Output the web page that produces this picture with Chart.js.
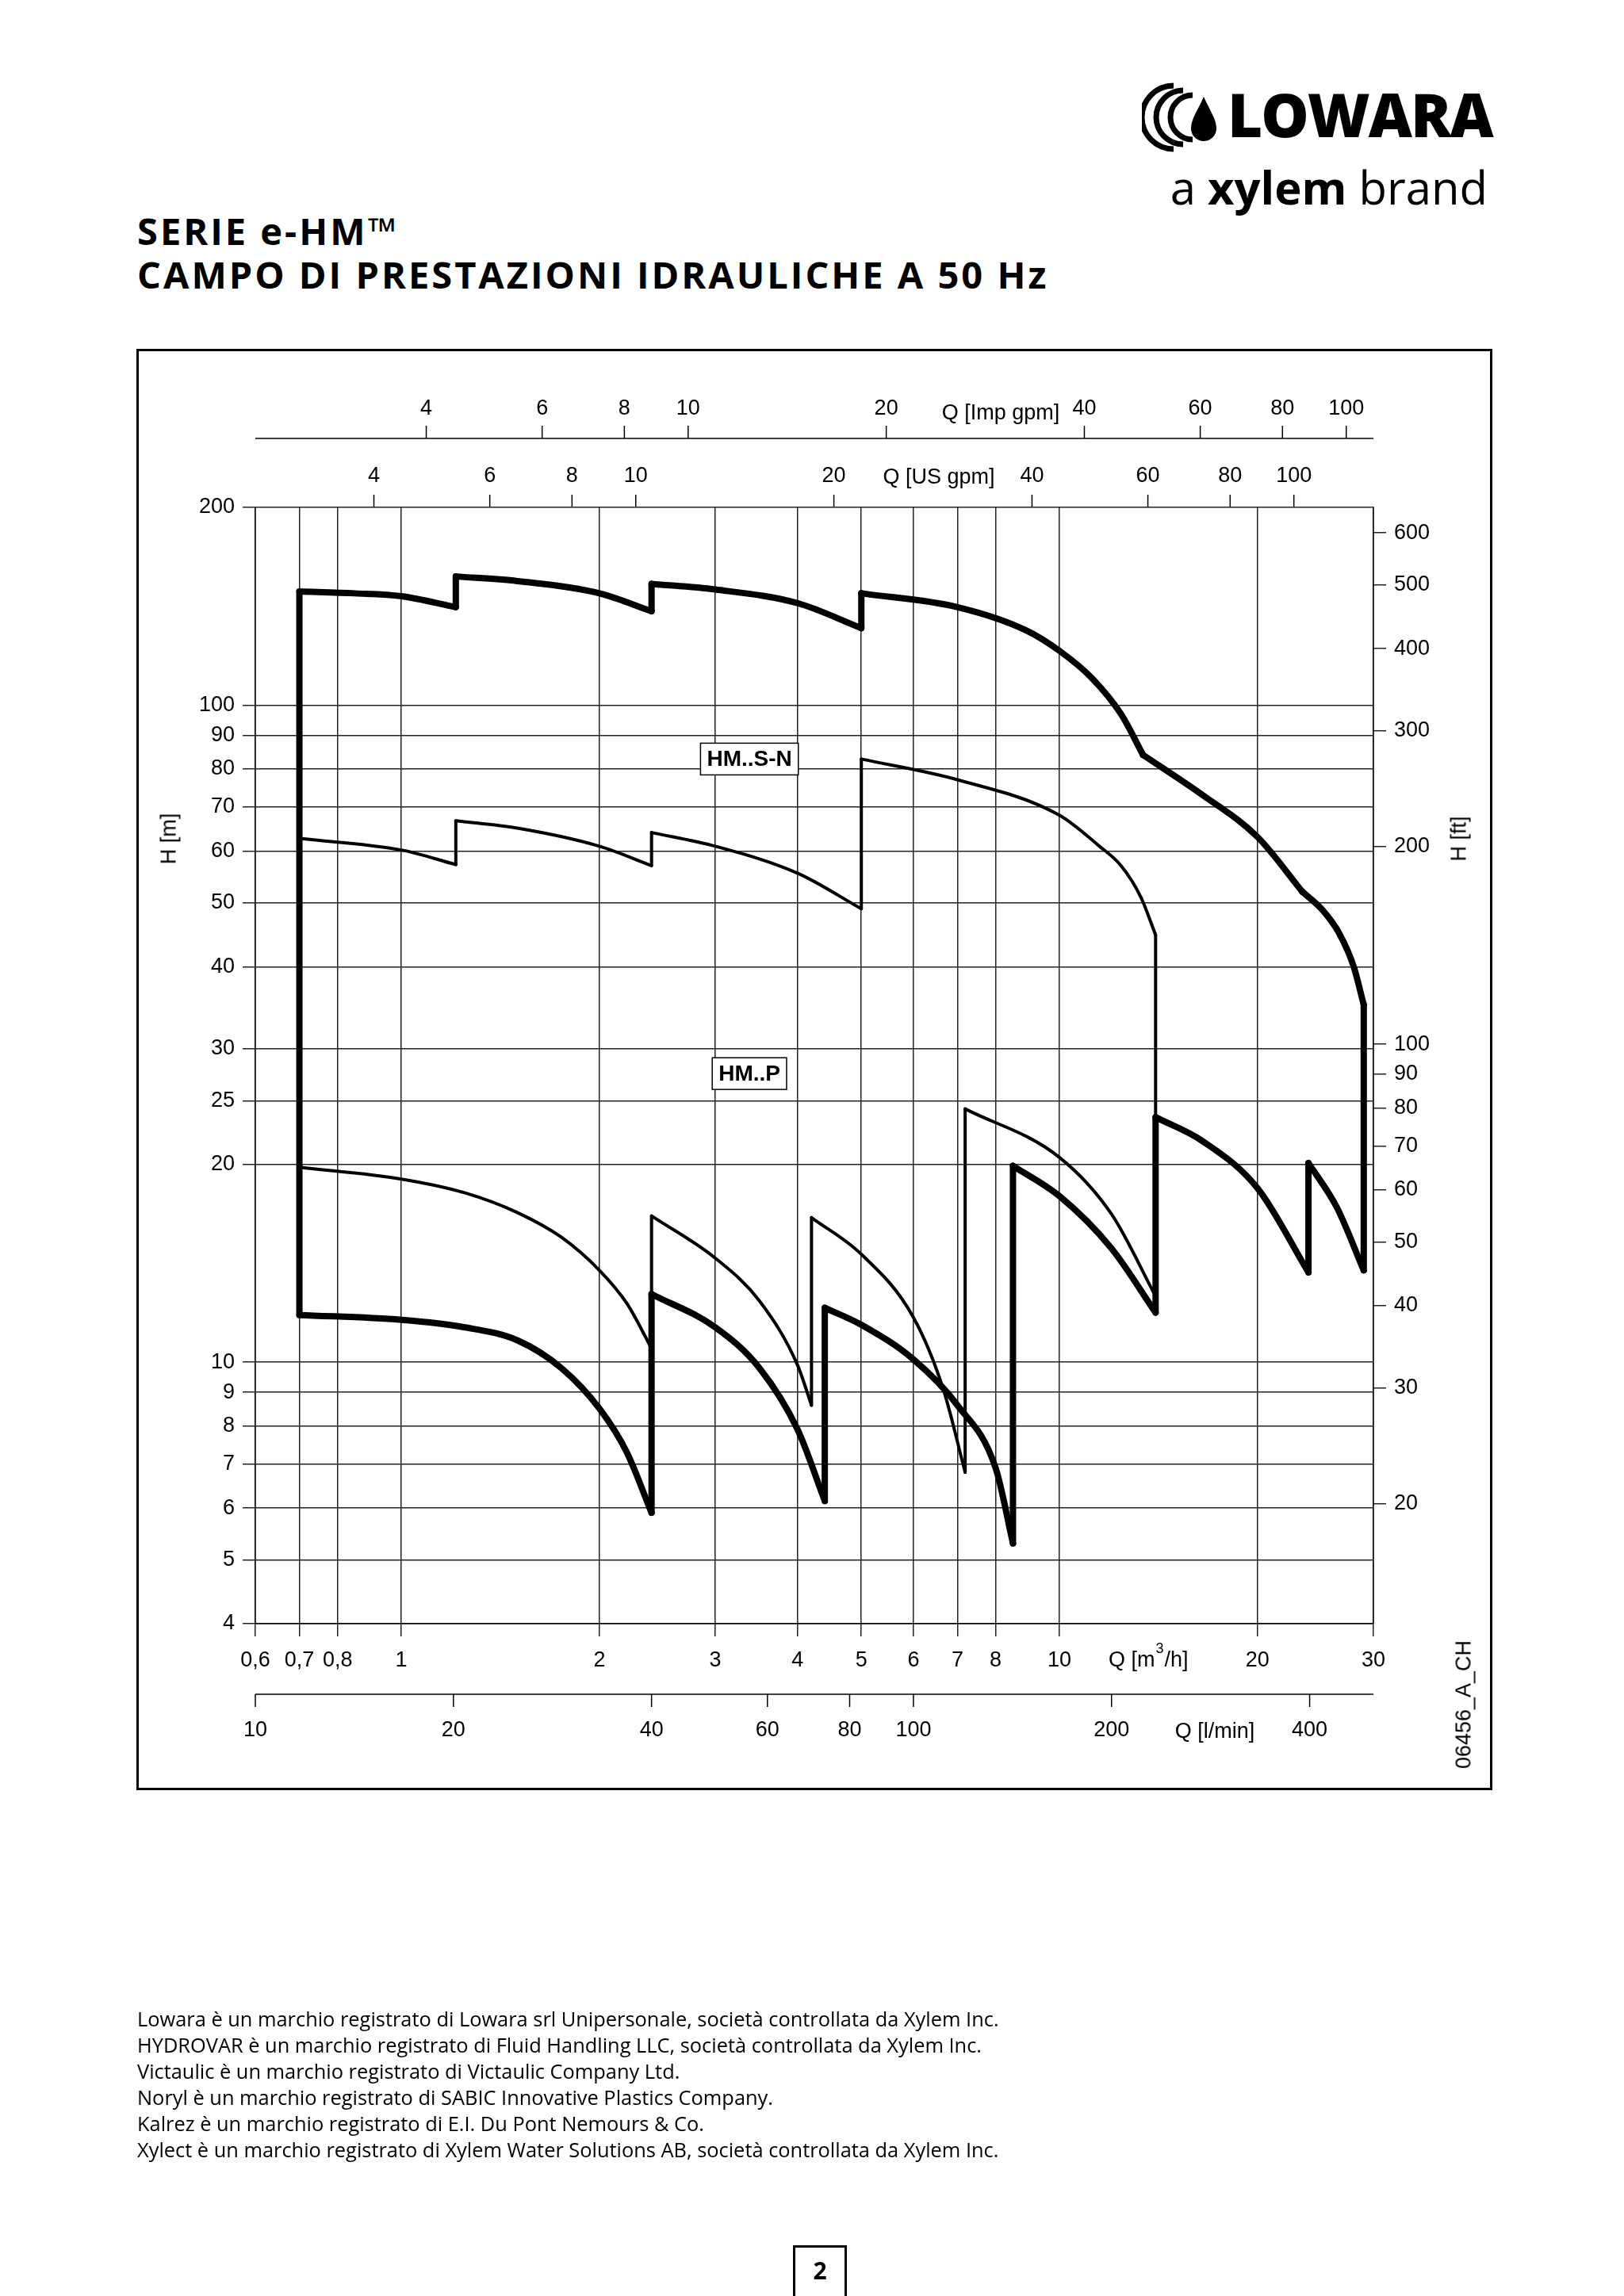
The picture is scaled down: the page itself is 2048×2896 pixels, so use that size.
<!DOCTYPE html>
<html>
<head>
<meta charset="utf-8">
<script src="https://cdn.jsdelivr.net/npm/chart.js@4.4.0/dist/chart.umd.min.js"></script>
<style>
  body { margin:0; width:2048px; height:2896px; background:#fff; position:relative; overflow:hidden; font-family:"Liberation Sans", Arial, sans-serif; }
  #myChart { position:absolute; left:0; top:0; }
  .frame { position:absolute; left:172px; top:440px; width:1704px; height:1812px; border:3px solid #000; }
  .title { position:absolute; left:173px; font-family:"Open Sans", sans-serif; font-weight:700; font-size:47px; letter-spacing:3px; }
  .foot { position:absolute; left:173px; top:2530px; font-family:"Open Sans", sans-serif; font-size:25.4px; line-height:33px; }
  .rot { position:absolute; transform:translate(-50%,-50%) rotate(-90deg); font-size:27px; white-space:nowrap; }
  .page { position:absolute; left:1000px; top:2832px; width:62px; height:90px; border:3px solid #000; font-family:"Open Sans"; font-weight:700; font-size:30px; text-align:center; line-height:58px; }
</style>
</head>
<body>
<svg style="position:absolute;left:1440px;top:100px" width="100" height="96" viewBox="0 0 100 96">
  <g fill="none" stroke="#000" stroke-width="7">
    <path d="M40 8 A40 40 0 0 0 40 88"/>
    <path d="M52 14 A34 34 0 0 0 52 82"/>
    <path d="M64 20 A28 28 0 0 0 64 76"/>
  </g>
  <path d="M78 22 C70 40 62 50 62 62 A16 16 0 0 0 94 62 C94 50 86 40 78 22 Z" fill="#000"/>
</svg>
<div style="position:absolute;left:1548px;top:92px;font-family:'Open Sans';font-weight:800;font-size:76px;letter-spacing:-2px">LOWARA</div>
<div style="position:absolute;right:172px;top:196px;font-family:'Open Sans';font-size:58px">a <b>xylem</b> brand</div>
<div class="title" style="top:259px">SERIE e-HM™</div>
<div class="title" style="top:314px">CAMPO DI PRESTAZIONI IDRAULICHE A 50 Hz</div>
<div class="frame"></div>
<canvas id="myChart" width="2048" height="2896"></canvas>
<div class="rot" style="left:213px;top:1058px">H [m]</div>
<div class="rot" style="left:1840px;top:1058px">H [ft]</div>
<div class="rot" style="left:1846px;top:2150px">06456_A_CH</div>
<div class="foot">
Lowara è un marchio registrato di Lowara srl Unipersonale, società controllata da Xylem Inc.<br>
HYDROVAR è un marchio registrato di Fluid Handling LLC, società controllata da Xylem Inc.<br>
Victaulic è un marchio registrato di Victaulic Company Ltd.<br>
Noryl è un marchio registrato di SABIC Innovative Plastics Company.<br>
Kalrez è un marchio registrato di E.I. Du Pont Nemours &amp; Co.<br>
Xylect è un marchio registrato di Xylem Water Solutions AB, società controllata da Xylem Inc.
</div>
<div class="page">2</div>
<script>
// tick values
var xTicks = [0.6, 0.7, 0.8, 1, 2, 3, 4, 5, 6, 7, 8, 10, 20, 30];
var yTicks = [4, 5, 6, 7, 8, 9, 10, 20, 25, 30, 40, 50, 60, 70, 80, 90, 100, 200];
var ftTicks = [20, 30, 40, 50, 60, 70, 80, 90, 100, 200, 300, 400, 500, 600];
var impTicks = [4, 6, 8, 10, 20, 40, 60, 80, 100];
var usTicks = [4, 6, 8, 10, 20, 40, 60, 80, 100];
var lminTicks = [10, 20, 40, 60, 80, 100, 200, 400];

// HM..S-N upper envelope (thick), [Q m3/h, H m]
var snThick = [
  [[0.7, 149], [0.85, 148], [1, 146.5], [1.21, 141]],
  [[1.21, 157], [1.5, 154.5], [2, 148], [2.4, 139]],
  [[2.4, 153], [3, 150], [4, 143], [5, 131]],
  [[5, 148], [7, 141], [8.9, 130], [10, 121], [11.2, 110], [12.4, 97], [13.4, 84]],
  [[13.4, 84], [16.5, 73], [20, 63], [23.4, 52]],
  [[23.4, 52], [25, 49], [26.6, 45], [28, 40], [29, 35]]
];
// HM..S-N lower (thin)
var snThin = [
  [[0.7, 62.7], [1, 60.2], [1.21, 57.2]],
  [[1.21, 66.7], [1.5, 65], [2, 61], [2.4, 57]],
  [[2.4, 64], [3, 61], [4, 55.5], [5, 49]],
  [[5, 82.8], [7, 77], [10, 68], [11.5, 61], [12.4, 57], [13.3, 51], [14, 44.7]]
];
// HM..P upper (thin)
var pThin = [
  [[0.7, 19.8], [1, 19], [1.25, 18.1], [1.5, 16.9], [1.75, 15.5], [2, 13.8], [2.2, 12.3], [2.4, 10.5]],
  [[2.4, 16.7], [3, 14.4], [3.5, 12.4], [4, 9.9], [4.2, 8.6]],
  [[4.2, 16.6], [5, 14.6], [6, 11.7], [6.66, 9.1], [7.19, 6.8]],
  [[7.19, 24.3], [10, 20.5], [12, 16.8], [14, 12.6]]
];
// HM..P lower envelope (thick)
var pThick = [
  [[0.7, 11.8], [1, 11.6], [1.25, 11.3], [1.5, 10.8], [1.75, 9.8], [2, 8.5], [2.2, 7.3], [2.4, 5.9]],
  [[2.4, 12.7], [3, 11.3], [3.5, 9.8], [4, 7.9], [4.4, 6.15]],
  [[4.4, 12.1], [5, 11.4], [6, 10.1], [7, 8.6], [8, 6.9], [8.5, 5.3]],
  [[8.5, 19.9], [10, 17.9], [12, 14.9], [14, 11.9]],
  [[14, 23.6], [16.5, 21.7], [20, 18.4], [23.9, 13.7]],
  [[23.9, 20.1], [26.4, 17.2], [29, 13.8]]
];
// closing verticals
var thickLeft = [[0.7, 11.8], [0.7, 149]];
var thickRight = [[29, 13.8], [29, 35]];
var thinRight = [[14, 44.7], [14, 12.6]];

var datasets = [];
function addLine(pts, w, smooth) {
  datasets.push({
    data: pts.map(function (p) { return { x: p[0], y: p[1] }; }),
    borderColor: '#000', borderWidth: w, pointRadius: 0,
    tension: smooth ? 0.4 : 0, cubicInterpolationMode: smooth ? 'monotone' : 'default',
    borderCapStyle: 'round', borderJoinStyle: 'round', fill: false
  });
}
function addSeries(pieces, w) {
  pieces.forEach(function (pc, i) {
    addLine(pc, w, true);
    if (i > 0) addLine([pieces[i - 1][pieces[i - 1].length - 1], pc[0]], w, false);
  });
}
addSeries(snThick, 8);
addSeries(pThick, 8);
addSeries(snThin, 4);
addSeries(pThin, 4);
addLine(thickLeft, 8, false);
addLine(thickRight, 8, false);
addLine(thinRight, 4, false);

var tickFont = { family: 'Liberation Sans', size: 27 };
function fmt(v) { return String(v).replace('.', ','); }

var extras = {
  id: 'extras',
  afterDraw: function (chart) {
    var c = chart.ctx, x = chart.scales.x, y = chart.scales.y, a = chart.chartArea;
    c.save();
    c.strokeStyle = '#000'; c.fillStyle = '#000'; c.lineWidth = 1.5;
    c.font = '27px "Liberation Sans"'; c.textAlign = 'center'; c.textBaseline = 'middle';
    // Imp gpm axis
    var yi = 553;
    c.beginPath(); c.moveTo(a.left, yi); c.lineTo(a.right, yi); c.stroke();
    impTicks.forEach(function (v) {
      var px = x.getPixelForValue(v / 3.666);
      c.beginPath(); c.moveTo(px, yi); c.lineTo(px, yi - 16); c.stroke();
      c.fillText(String(v), px, 516);
    });
    c.fillText('Q [Imp gpm]', 1262, 522);
    // US gpm axis
    usTicks.forEach(function (v) {
      var px = x.getPixelForValue(v / 4.403);
      c.beginPath(); c.moveTo(px, a.top); c.lineTo(px, a.top - 16); c.stroke();
      c.fillText(String(v), px, 601);
    });
    c.fillText('Q [US gpm]', 1184, 603);
    // l/min axis
    var yl = 2137;
    c.beginPath(); c.moveTo(a.left, yl); c.lineTo(a.right, yl); c.stroke();
    lminTicks.forEach(function (v) {
      var px = x.getPixelForValue(v / 16.667);
      c.beginPath(); c.moveTo(px, yl); c.lineTo(px, yl + 16); c.stroke();
      c.fillText(String(v), px, 2183);
    });
    c.fillText('Q [l/min]', 1532, 2185);
    // m3/h label with superscript
    c.textAlign = 'left';
    var x0 = 1398, p1 = 'Q [m', p3 = '/h]';
    c.fillText(p1, x0, 2095);
    var w1 = c.measureText(p1).width;
    c.font = '18px "Liberation Sans"';
    c.fillText('3', x0 + w1 + 1, 2080);
    var w3 = c.measureText('3').width;
    c.font = '27px "Liberation Sans"';
    c.fillText(p3, x0 + w1 + w3 + 2, 2095);
    c.textAlign = 'center';
    // series labels
    c.font = 'bold 28px "Liberation Sans"';
    [['HM..S-N', 3.38, 82.8], ['HM..P', 3.38, 27.5]].forEach(function (l) {
      var px = x.getPixelForValue(l[1]), py = y.getPixelForValue(l[2]);
      var w = c.measureText(l[0]).width + 16;
      c.fillStyle = '#fff'; c.fillRect(px - w / 2, py - 20, w, 40);
      c.strokeRect(px - w / 2, py - 20, w, 40);
      c.fillStyle = '#000'; c.fillText(l[0], px, py + 1);
    });
    c.restore();
  }
};

var ctx = document.getElementById('myChart').getContext('2d');
var myChart = new Chart(ctx, {
  type: 'line',
  data: { datasets: datasets },
  plugins: [extras],
  options: {
    responsive: false,
    animation: false,
    devicePixelRatio: 1,
    layout: { padding: { left: 222, right: 196, top: 640, bottom: 788 } },
    plugins: { legend: { display: false }, tooltip: { enabled: false } },
    scales: {
      x: {
        type: 'logarithmic', min: 0.6, max: 30, position: 'bottom',
        afterBuildTicks: function (s) { s.ticks = xTicks.map(function (v) { return { value: v }; }); },
        afterFit: function (s) { s.height = 60; },
        ticks: { font: tickFont, color: '#000', padding: 14, autoSkip: false, maxRotation: 0,
          callback: function (v) { return fmt(v); } },
        grid: { color: '#222', lineWidth: 1.5, tickLength: 16 },
        border: { color: '#000', width: 1.5 }
      },
      y: {
        type: 'logarithmic', min: 4, max: 200, position: 'left',
        afterBuildTicks: function (s) { s.ticks = yTicks.map(function (v) { return { value: v }; }); },
        afterFit: function (s) { s.width = 100; },
        ticks: { font: tickFont, color: '#000', padding: 10, autoSkip: false,
          callback: function (v) { return String(v); } },
        grid: { color: '#222', lineWidth: 1.5, tickLength: 16 },
        border: { color: '#000', width: 1.5 }
      },
      y2: {
        type: 'logarithmic', min: 4 * 3.2808, max: 200 * 3.2808, position: 'right',
        afterBuildTicks: function (s) { s.ticks = ftTicks.map(function (v) { return { value: v }; }); },
        afterFit: function (s) { s.width = 120; },
        ticks: { font: tickFont, color: '#000', padding: 10, autoSkip: false,
          callback: function (v) { return String(v); } },
        grid: { drawOnChartArea: false, color: '#222', lineWidth: 1.5, tickLength: 16 },
        border: { color: '#000', width: 1.5 }
      }
    }
  }
});
</script>
</body>
</html>
